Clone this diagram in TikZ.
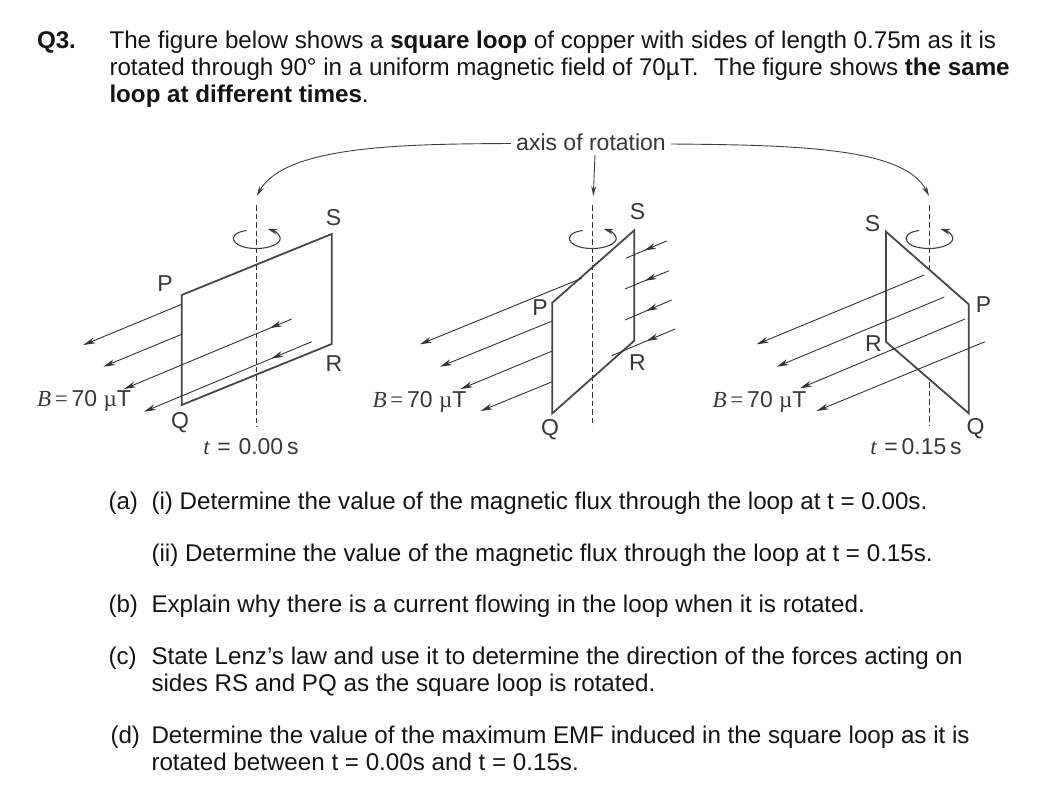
\documentclass[tikz,border=0pt]{standalone}
\usepackage{fontspec}
\setmainfont{Liberation Sans}
\newfontfamily\timesf{Liberation Serif}
\usetikzlibrary{arrows.meta,decorations.markings}
\tikzset{
  body/.style={anchor=base west,inner sep=0pt,outer sep=0pt,text=black!92,font=\fontsize{24.17}{27}\selectfont},
  lab/.style={inner sep=0pt,text=black!78,font=\fontsize{23}{27}\selectfont},
  loopedge/.style={draw=black!72,line width=1.8pt,line join=miter},
  axisline/.style={draw=black!80,line width=0.9pt,dash pattern=on 5.5pt off 3pt},
  field/.style={draw=black!80,line width=0.9pt,-{Stealth[length=12pt,width=6pt]}},
  fieldtail/.style={draw=black!80,line width=0.9pt},
  midhead/.style={draw=black!80,line width=0.9pt,postaction={decorate},decoration={markings,mark=at position #1 with {\arrow{Stealth[length=12pt,width=6pt]}}}},
  pointer/.style={draw=black!75,line width=0.9pt,-{Stealth[length=10pt,width=5pt]}},
  spin/.style={draw=black!75,line width=1.1pt,-{Stealth[length=10pt,width=6pt]}}
}
\newcommand{\bfield}{{\timesf\itshape B}\,{\timesf=}\,70 {\timesf µ}T}
\begin{document}
\begin{tikzpicture}[x=1pt,y=-1pt]
\useasboundingbox (0,0) rectangle (1047,806);
% question text
\node[body,font=\fontsize{24.17}{27}\selectfont\bfseries] (qn) at (37,48) {Q3.};
\node[body] (l1) at (109.5,48) {The figure below shows a \textbf{square loop} of copper with sides of length 0.75m as it is};
\node[body] (l2) at (109.5,75.5) {rotated through 90° in a uniform magnetic field of 70µT.\ \ \kern2pt The figure shows \textbf{the same}};
\node[body] (l3) at (109.5,102.5) {\textbf{loop at different times}.};
\node[body] (a0) at (108.5,509.5) {(a)};
\node[body] (a1) at (151.5,509.5) {(i) Determine the value of the magnetic flux through the loop at t = 0.00s.};
\node[body] (a2) at (151.5,561) {(ii) Determine the value of the magnetic flux through the loop at t = 0.15s.};
\node[body] (b0) at (108.5,612.5) {(b)};
\node[body] (b1) at (151.5,612.5) {Explain why there is a current flowing in the loop when it is rotated.};
\node[body] (c0) at (108.5,664) {(c)};
\node[body] (c1) at (151.5,664) {State Lenz’s law and use it to determine the direction of the forces acting on};
\node[body] (c2) at (151.5,691.5) {sides RS and PQ as the square loop is rotated.};
\node[body] (d0) at (110.5,743) {(d)};
\node[body] (d1) at (151.5,743) {Determine the value of the maximum EMF induced in the square loop as it is};
\node[body] (d2) at (151.5,770.5) {rotated between t = 0.00s and t = 0.15s.};
% top label
\node[lab] (axl) at (591,142.5) {axis of rotation};
\coordinate (ax1t) at (256.7,205); \coordinate (ax1b) at (256.7,427);
\coordinate (ax2t) at (592.7,205); \coordinate (ax2b) at (592.7,426);
\coordinate (ax3t) at (929.3,205); \coordinate (ax3m) at (929.3,269);
\coordinate (ax3n) at (929.3,382); \coordinate (ax3b) at (929.3,425);
\coordinate (tipl) at (256.7,196); \coordinate (tipc) at (593.3,196); \coordinate (tipr) at (929,196);
\draw[pointer] (axl.west) ++(-5,1) .. controls (400,144) and (285,146) .. (tipl);
\draw[pointer] (axl.east) ++(5,1.5) .. controls (800,145) and (905,148) .. (tipr);
\draw[pointer] (595,154.5) -- (tipc);
% axes
\draw[axisline] (ax1t) -- (ax1b);
\draw[axisline] (ax2t) -- (ax2b);
\draw[axisline] (ax3t) -- (ax3m);
\draw[axisline] (ax3n) -- (ax3b);
% spin arrows
\foreach \cx in {256.7,592.7,929.3}{
  \draw[spin] (\cx-10,230.5) .. controls (\cx-22,232) and (\cx-24,237) .. (\cx-23,240)
     .. controls (\cx-20,247) and (\cx-8,248.5) .. (\cx,248.5)
     .. controls (\cx+12,248.5) and (\cx+24,244) .. (\cx+23.5,238)
     .. controls (\cx+23,234) and (\cx+18,231) .. (\cx+11,229);
}
% loop 1
\coordinate (P1) at (181.7,295); \coordinate (S1) at (331.7,234);
\coordinate (R1) at (331.7,344); \coordinate (Q1) at (181.7,405);
\draw[loopedge] (P1) -- (S1) -- (R1) -- (Q1) -- cycle;
\coordinate (f11s) at (181.7,304.3); \coordinate (f11e) at (83.3,345);
\coordinate (f12s) at (181.7,334.3); \coordinate (f12e) at (103.3,366.7);
\coordinate (f13s) at (291.7,319); \coordinate (f13e) at (124,389);
\coordinate (f14s) at (311.7,341.7); \coordinate (f14e) at (144,411.7);
\draw[field] (f11s) -- (f11e);
\draw[field] (f12s) -- (f12e);
\draw[field,midhead=0.13] (f13s) -- (f13e);
\draw[field,midhead=0.24] (f14s) -- (f14e);
\node[lab] (lp1) at (165,283.5) {P};
\node[lab] (ls1) at (333.5,217.5) {S};
\node[lab] (lr1) at (334,363.5) {R};
\node[lab] (lq1) at (180,422.5) {Q};
\node[lab] (b1) at (84,401) {\bfield};
\node[lab] (t1) at (251,447) {{\timesf\itshape t}\,\,=\,\,0.00\,s};
% loop 2
\coordinate (P2) at (552.3,302.7); \coordinate (S2) at (634.3,230.3);
\coordinate (R2) at (634.3,340.7); \coordinate (Q2) at (552.3,413.3);
\draw[loopedge] (P2) -- (S2) -- (R2) -- (Q2) -- cycle;
\coordinate (f21s) at (581.7,278.3); \coordinate (f21e) at (420,344.3);
\coordinate (f22s) at (552.3,321); \coordinate (f22e) at (440,366.7);
\coordinate (f23s) at (552.3,351); \coordinate (f23e) at (460.7,389);
\coordinate (f24s) at (552.3,381.7); \coordinate (f24e) at (480.7,411);
\draw[field] (f21s) -- (f21e);
\draw[field] (f22s) -- (f22e);
\draw[field] (f23s) -- (f23e);
\draw[field] (f24s) -- (f24e);
\coordinate (r21s) at (666.7,241); \coordinate (r21e) at (625.7,258.3);
\coordinate (r22s) at (669,270.7); \coordinate (r22e) at (625,289);
\coordinate (r23s) at (671.7,300); \coordinate (r23e) at (625,320);
\coordinate (r24s) at (675,329); \coordinate (r24e) at (611.7,355.7);
\draw[fieldtail,midhead=0.55] (r21s) -- (r21e);
\draw[fieldtail,midhead=0.55] (r22s) -- (r22e);
\draw[fieldtail,midhead=0.55] (r23s) -- (r23e);
\draw[fieldtail,midhead=0.45] (r24s) -- (r24e);
\node[lab] (lp2) at (540,307.5) {P};
\node[lab] (ls2) at (637.5,212) {S};
\node[lab] (lr2) at (637.5,362.5) {R};
\node[lab] (lq2) at (550,429.5) {Q};
\node[lab] (b2) at (419.5,401.5) {\bfield};
% loop 3
\coordinate (S3) at (886,231.7); \coordinate (P3) at (968.7,304.3);
\coordinate (Q3) at (968.7,413.3); \coordinate (R3) at (886,341.7);
\draw[loopedge] (S3) -- (P3) -- (Q3) -- (R3) -- cycle;
\coordinate (f31s) at (924.3,275); \coordinate (f31e) at (756.7,344.3);
\coordinate (f32s) at (944.3,297); \coordinate (f32e) at (776.7,366.7);
\coordinate (f33s) at (965,319); \coordinate (f33e) at (800,388.3);
\coordinate (f34s) at (985,341.7); \coordinate (f34e) at (816.7,411);
\draw[field] (f31s) -- (f31e);
\draw[field] (f32s) -- (f32e);
\draw[field] (f33s) -- (f33e);
\draw[field] (f34s) -- (f34e);
\node[lab] (ls3) at (872.5,223.5) {S};
\node[lab] (lp3) at (983.5,305) {P};
\node[lab] (lr3) at (873.5,343.5) {R};
\node[lab] (lq3) at (975.5,429) {Q};
\node[lab] (b3) at (759.5,401.5) {\bfield};
\node[lab] (t3) at (916,447) {{\timesf\itshape t}\,\,=\,0.15\,s};
\end{tikzpicture}
\end{document}
